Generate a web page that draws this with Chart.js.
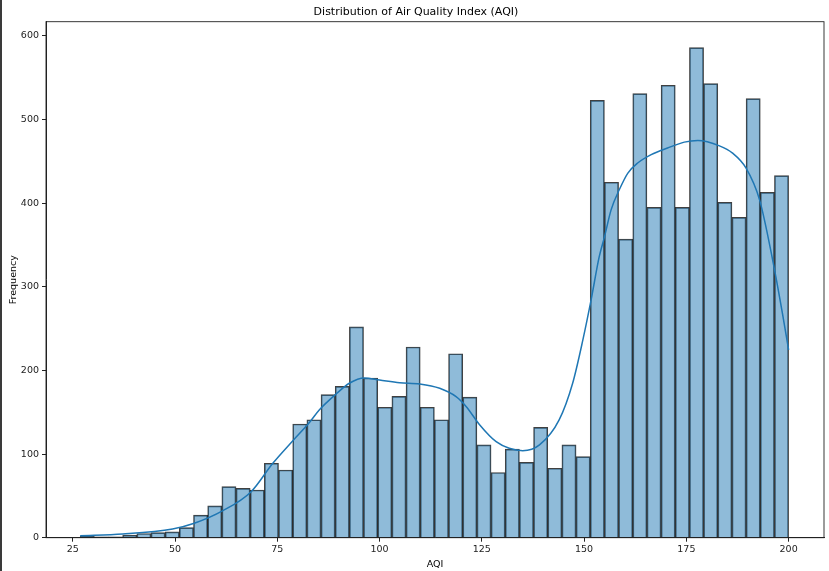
<!DOCTYPE html>
<html lang="en">
<head>
    <meta charset="UTF-8">
    <title>Distribution of Air Quality Index (AQI)</title>
    <script src="https://cdn.jsdelivr.net/npm/chart.js"></script>
    <style>
        body {
            margin: 0;
            padding: 0;
            background: #ffffff;
            overflow: hidden;
        }
        .wrap {
            position: relative;
            width: 829px;
            height: 571px;
        }
        .edge {
            position: absolute;
            left: 0;
            top: 0;
            width: 2px;
            height: 571px;
            background: #3a3a3a;
        }
    </style>
</head>
<body>
    <div class="wrap">
        <canvas id="histChart"></canvas>
        <div class="edge"></div>
    </div>

    <script>
        // histogram bins (50 bins, AQI 26.8 .. 200)
        const binStart = 26.8;
        const binWidth = 3.464;
        const counts = [
            2, 1, 1, 3, 5, 6, 7, 12, 27, 38,
            61, 59, 57, 89, 81, 136, 141, 171, 181, 252,
            191, 156, 169, 228, 156, 141, 220, 168, 111, 78,
            106, 90, 132, 83, 111, 97, 523, 425, 357, 531,
            395, 541, 395, 586, 543, 401, 383, 525, 413, 433
        ];

        // kde curve
        const kdeX = [26.8, 37.2, 49.4, 54.7, 61.7, 68.6, 73.9, 78.8, 82.9, 85.3, 89.4, 92.6, 96.3, 100, 104.9, 109.8,
            114.7, 118.7, 121.2, 124.5, 128.5, 131.7, 135, 139.1, 143.9, 147.2, 149.7, 151.7, 153.7, 155.0, 156.6,
            158.6, 160.7, 163.1, 166.4, 170.4, 174.5, 177.8, 183.1, 186.3, 189.6, 192.9, 196.1, 198.5, 200];
        const kdeY = [2.4, 4.4, 10.4, 17.2, 32.3, 55, 89, 116, 138, 153, 172, 184.7, 191, 188.6, 185.4, 183.9,
            178.7, 168.7, 156.7, 134.8, 114.8, 106.9, 104, 110.9, 140.8, 184.7, 236.5, 284, 336, 360, 392,
            416, 436, 448, 458, 466, 473, 475, 468.5, 459.8, 441.9, 404, 332, 268, 224.5];

        const xTicks = [25, 50, 75, 100, 125, 150, 175, 200];
        const yTicks = [0, 100, 200, 300, 400, 500, 600];

        const barData = counts.map((c, i) => ({ x: binStart + binWidth * (i + 0.5), y: c }));
        const kdeData = kdeX.map((x, i) => ({ x: x, y: kdeY[i] }));

        // box around the plot like matplotlib spines
        const frame = {
            id: 'frame',
            afterDraw(chart) {
                const a = chart.chartArea;
                const ctx = chart.ctx;
                ctx.save();
                ctx.strokeStyle = '#222';
                ctx.lineWidth = 0.9;
                ctx.strokeRect(a.left, a.top, a.right - a.left, a.bottom - a.top);
                ctx.restore();
            }
        };

        const font = "'DejaVu Sans', sans-serif";

        new Chart(document.getElementById('histChart'), {
            type: 'bar',
            data: {
                datasets: [{
                    type: 'line',
                    data: kdeData,
                    borderColor: '#1f77b4',
                    borderWidth: 1.5,
                    pointRadius: 0,
                    cubicInterpolationMode: 'monotone',
                    fill: false,
                    order: 0
                }, {
                    type: 'bar',
                    data: barData,
                    backgroundColor: 'rgba(31, 119, 180, 0.5)',
                    borderColor: 'rgba(0, 0, 0, 0.75)',
                    borderWidth: 1,
                    barPercentage: 1,
                    categoryPercentage: 1,
                    grouped: false,
                    order: 1
                }]
            },
            options: {
                responsive: true,
                maintainAspectRatio: false,
                animation: false,
                layout: { padding: { left: 8, right: 5, top: 0, bottom: 0 } },
                plugins: {
                    legend: { display: false },
                    tooltip: { enabled: false },
                    title: {
                        display: true,
                        text: 'Distribution of Air Quality Index (AQI)',
                        color: '#000',
                        font: { family: font, size: 11, weight: 'normal' },
                        padding: { top: 6, bottom: 2.5 }
                    }
                },
                scales: {
                    x: {
                        type: 'linear',
                        min: 18.45,
                        max: 208.65,
                        offset: false,
                        afterBuildTicks: s => { s.ticks = xTicks.map(v => ({ value: v })); },
                        afterFit: s => { s.height = 33.3; },
                        grid: { display: true, drawOnChartArea: false, drawTicks: true, tickLength: 4, color: '#222', offset: false },
                        border: { display: true, color: '#222' },
                        ticks: { color: '#222', font: { family: font, size: 9.5 }, padding: 2, maxRotation: 0 },
                        title: { display: true, text: 'AQI', color: '#000', font: { family: font, size: 9.5 }, padding: { top: 0, bottom: 1 } }
                    },
                    y: {
                        min: 0,
                        max: 617,
                        afterBuildTicks: s => { s.ticks = yTicks.map(v => ({ value: v })); },
                        afterFit: s => { s.width = 38; },
                        grid: { display: true, drawOnChartArea: false, drawTicks: true, tickLength: 4, color: '#222' },
                        border: { display: true, color: '#222' },
                        ticks: { color: '#222', font: { family: font, size: 9.5 }, padding: 3 },
                        title: { display: true, text: 'Frequency', color: '#000', font: { family: font, size: 9.5 }, padding: { top: 0, bottom: 2 } }
                    }
                }
            },
            plugins: [frame]
        });
    </script>
</body>
</html>
